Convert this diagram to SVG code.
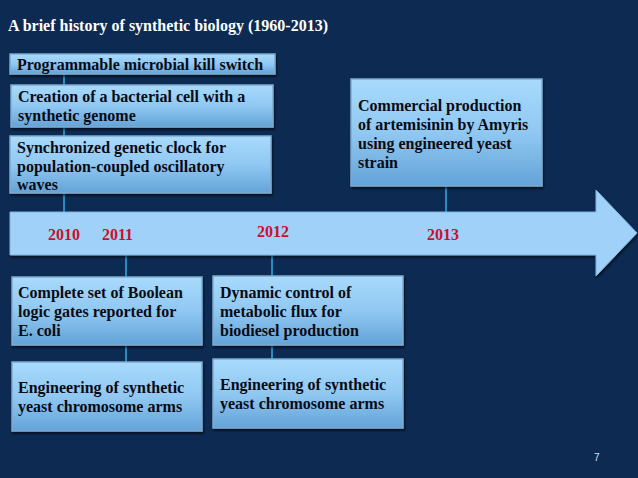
<svg xmlns="http://www.w3.org/2000/svg" width="638" height="478" viewBox="0 0 638 478">
<defs>
<linearGradient id="bg" x1="0" y1="0" x2="0" y2="1">
<stop offset="0" stop-color="#a8dafc"/>
<stop offset="0.5" stop-color="#90c8f2"/>
<stop offset="1" stop-color="#63a3d8"/>
</linearGradient>
<filter id="sh" x="-5%" y="-5%" width="115%" height="125%">
<feDropShadow dx="1" dy="2" stdDeviation="1.2" flood-color="#000" flood-opacity="0.6"/>
</filter>
<style>
.box{fill:url(#bg);stroke:#7fa9cc;stroke-width:1.5;filter:url(#sh)}
.t{font-family:"Liberation Serif",serif;font-weight:bold;font-size:16px;fill:#0b0b14}
.yr{font-family:"Liberation Serif",serif;font-weight:bold;font-size:16px;fill:#c8102e}
.c{stroke:#2fa6de;stroke-width:1.6}
</style>
</defs>
<rect width="638" height="478" fill="#0c2a52"/>
<text x="8" y="31" font-family="Liberation Serif,serif" font-weight="bold" font-size="16" fill="#ffffff">A brief history of synthetic biology (1960-2013)</text>
<g id="connectors">
<line class="c" x1="64" y1="74" x2="64" y2="85"/>
<line class="c" x1="64" y1="127" x2="64" y2="136"/>
<line class="c" x1="64" y1="193" x2="64" y2="212"/>
<line class="c" x1="446" y1="186" x2="446" y2="212"/>
<line class="c" x1="126" y1="254" x2="126" y2="277"/>
<line class="c" x1="272" y1="254" x2="272" y2="276"/>
<line class="c" x1="126" y1="345" x2="126" y2="362"/>
<line class="c" x1="272" y1="345" x2="272" y2="359"/>
</g>
<g id="timeline">
<path d="M10 212 H596 V190 L637 233 L596 276 V255 H10 Z" fill="#a0d2f9" stroke="#7fb0dc" stroke-width="1" filter="url(#sh)"/>
<text class="yr" x="48" y="240">2010</text>
<text class="yr" x="102" y="240">2011</text>
<text class="yr" x="257" y="237">2012</text>
<text class="yr" x="427" y="240">2013</text>
</g>
<g id="n1"><rect class="box" x="10" y="54" width="265" height="20"/><text class="t" x="17" y="70">Programmable microbial kill switch</text></g>
<g id="n2"><rect class="box" x="11" y="85" width="262" height="42"/><text class="t" x="18" y="102">Creation of a bacterial cell with a</text><text class="t" x="18" y="121">synthetic genome</text></g>
<g id="n3"><rect class="box" x="10" y="136" width="261" height="57"/><text class="t" x="17" y="153">Synchronized genetic clock for</text><text class="t" x="17" y="172">population-coupled oscillatory</text><text class="t" x="17" y="190">waves</text></g>
<g id="n4"><rect class="box" x="351" y="79" width="191" height="107"/><text class="t" x="358" y="111">Commercial production</text><text class="t" x="358" y="130">of artemisinin by Amyris</text><text class="t" x="358" y="149">using engineered yeast</text><text class="t" x="358" y="168">strain</text></g>
<g id="n5"><rect class="box" x="12" y="277" width="190" height="68"/><text class="t" x="18" y="298">Complete set of Boolean</text><text class="t" x="18" y="317">logic gates reported for</text><text class="t" x="18" y="336">E. coli</text></g>
<g id="n6"><rect class="box" x="213" y="276" width="190" height="69"/><text class="t" x="220" y="298">Dynamic control of</text><text class="t" x="220" y="317">metabolic flux for</text><text class="t" x="220" y="336">biodiesel production</text></g>
<g id="n7"><rect class="box" x="12" y="362" width="190" height="69"/><text class="t" x="18" y="393">Engineering of synthetic</text><text class="t" x="18" y="412">yeast chromosome arms</text></g>
<g id="n8"><rect class="box" x="213" y="359" width="190" height="69"/><text class="t" x="220" y="390">Engineering of synthetic</text><text class="t" x="220" y="409">yeast chromosome arms</text></g>
<text x="594" y="461" font-family="Liberation Sans,sans-serif" font-size="10" fill="#d8e4f4">7</text>
</svg>
